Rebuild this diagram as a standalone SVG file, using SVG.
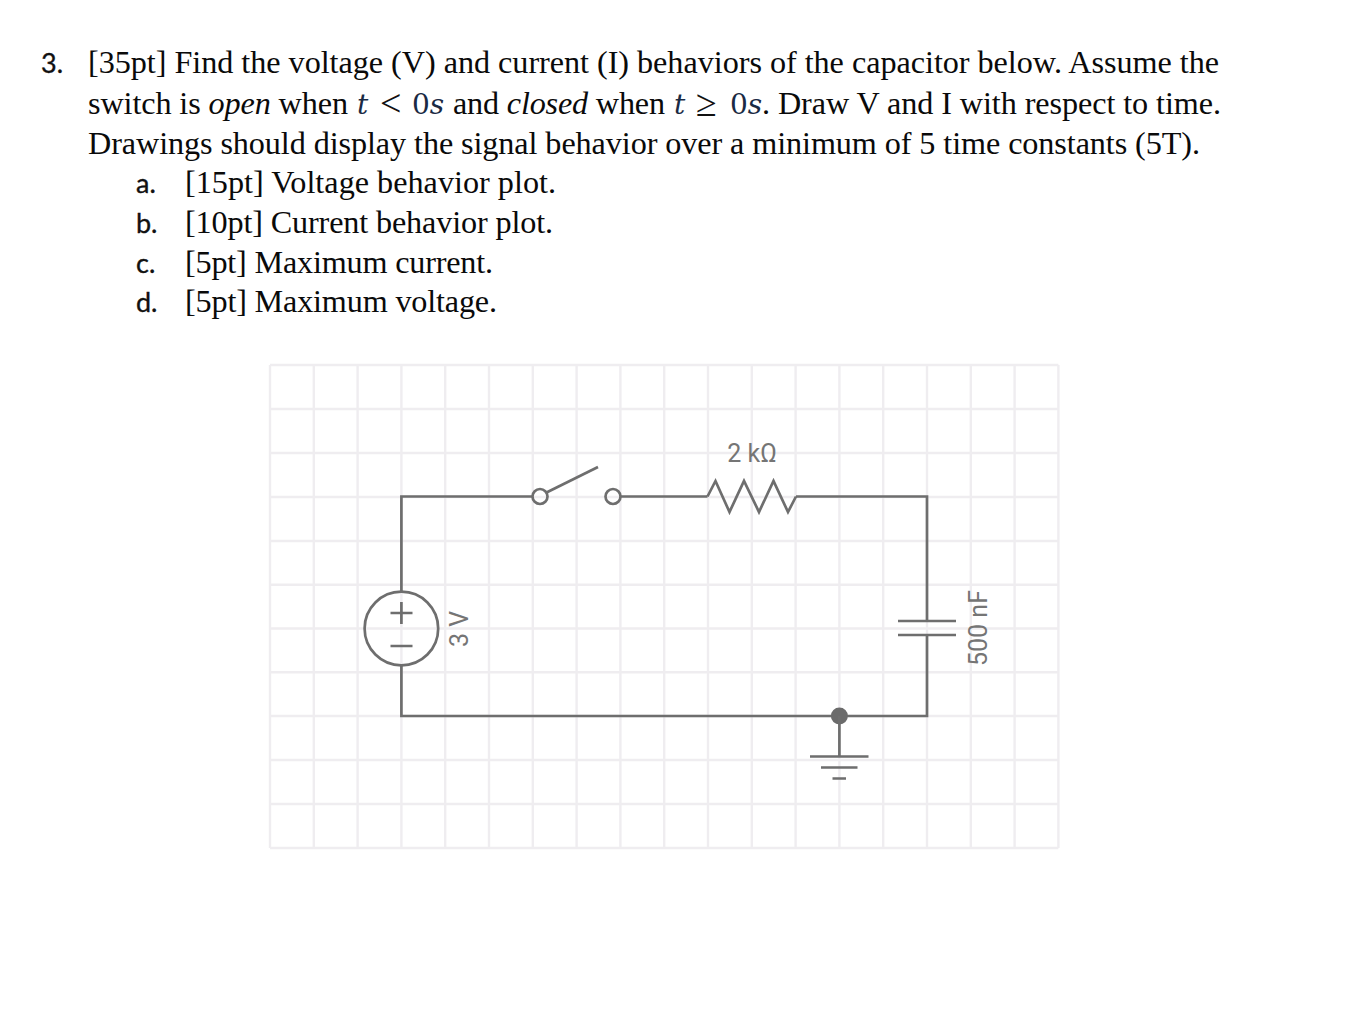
<svg xmlns="http://www.w3.org/2000/svg" width="1346" height="1027" viewBox="0 0 1346 1027">
<style>
.t{font-family:"Liberation Serif",serif;font-size:32.2px;fill:#0a0a0a}
.n{font-family:Lato,"Liberation Sans",sans-serif;font-size:27px;fill:#111;stroke:#111;stroke-width:.35}
.m{font-family:"DejaVu Serif","Liberation Serif",serif;font-size:28px;fill:#1a2a44}
.r{font-family:"Liberation Serif",serif;font-size:38px;fill:#111}
.mi{font-style:italic}
.g{stroke:#efedf0;stroke-width:2.4;fill:none}
.w{stroke:#6e6e6e;stroke-width:2.7;fill:none}
.l{font-family:Roboto,"Liberation Sans",sans-serif;font-size:25px;fill:#757575}
</style>
<rect width="1346" height="1027" fill="#fff"/>
<g id="question">
<text class="n" x="41" y="73">3.</text>
<text class="t" x="88" y="72.700" textLength="1131" lengthAdjust="spacing">[35pt] Find the voltage (V) and current (I) behaviors of the capacitor below. Assume the</text>
<text class="t" x="88" y="113.700" textLength="260" lengthAdjust="spacing">switch is <tspan font-style="italic">open</tspan> when</text>
<text class="m mi" x="357" y="114">t</text>
<text class="r" x="380" y="115.500">&lt;</text>
<text class="m" x="412" y="114">0<tspan class="mi">s</tspan></text>
<text class="t" x="453" y="113.700" textLength="212" lengthAdjust="spacing">and <tspan font-style="italic">closed</tspan> when</text>
<text class="m mi" x="674" y="114">t</text>
<text class="r" x="696" y="115.500">≥</text>
<text class="m" x="730" y="114">0<tspan class="mi">s</tspan></text>
<text class="t" x="762" y="113.700" textLength="459" lengthAdjust="spacing">. Draw V and I with respect to time.</text>
<text class="t" x="88" y="153.700" textLength="1112" lengthAdjust="spacing">Drawings should display the signal behavior over a minimum of 5 time constants (5T).</text>
<text class="n" x="136" y="193">a.</text>
<text class="t" x="185" y="192.700" textLength="371" lengthAdjust="spacing">[15pt] Voltage behavior plot.</text>
<text class="n" x="136" y="233">b.</text>
<text class="t" x="185" y="232.700" textLength="368" lengthAdjust="spacing">[10pt] Current behavior plot.</text>
<text class="n" x="136" y="273">c.</text>
<text class="t" x="185" y="272.700" textLength="308" lengthAdjust="spacing">[5pt] Maximum current.</text>
<text class="n" x="136" y="312">d.</text>
<text class="t" x="185" y="311.700" textLength="312" lengthAdjust="spacing">[5pt] Maximum voltage.</text>
</g>
<g id="grid" class="g">
<path d="M270 365V848M313.8 365V848M357.6 365V848M401.4 365V848M445.2 365V848M489 365V848M532.8 365V848M576.6 365V848M620.4 365V848M664.2 365V848M708 365V848M751.8 365V848M795.6 365V848M839.4 365V848M883.2 365V848M927 365V848M970.8 365V848M1014.6 365V848M1058.4 365V848"/>
<path d="M270 365H1058.4M270 409H1058.4M270 453H1058.4M270 497H1058.4M270 541H1058.4M270 584.7H1058.4M270 628.5H1058.4M270 672.3H1058.4M270 716H1058.4M270 760H1058.4M270 804H1058.4M270 848H1058.4"/>
</g>
<g id="connectors" class="w">
<path d="M401.4 592V496.5H532.5"/>
<path d="M620.5 496.5H707.500"/>
<path d="M796 496.5H927V621"/>
<path d="M927 635V716H401.4V665"/>
</g>
<g id="source" class="w">
<circle cx="401.4" cy="628.5" r="36.8"/>
<path d="M390.5 613H412.5M401.4 602V624M390.5 646H412.5"/>
</g>
<g id="source-label"><text class="l" transform="translate(468 647) rotate(-90)">3 V</text></g>
<g id="switch" class="w">
<circle cx="540" cy="496.5" r="7.5"/>
<circle cx="613" cy="496.5" r="7.5"/>
<path d="M546.5 492.5L598 467"/>
</g>
<g id="resistor" class="w">
<path d="M707.500 496.5L715.500 481L729.500 512L744 481L759 512L773.500 481L788 512L796 496.5"/>
</g>
<g id="resistor-label"><text class="l" x="752" y="462" text-anchor="middle">2 kΩ</text></g>
<g id="capacitor" class="w">
<path d="M898 621H956M898 635H956"/>
</g>
<g id="capacitor-label"><text class="l" transform="translate(987 666) rotate(-90)">500 nF</text></g>
<g id="ground">
<circle cx="839.400" cy="716" r="8.500" fill="#6b6b6b"/>
<path class="w" d="M839.400 716V756M810 756.500H868.500M821 767.500H857.500M832.500 778.500H846"/>
</g>
</svg>
